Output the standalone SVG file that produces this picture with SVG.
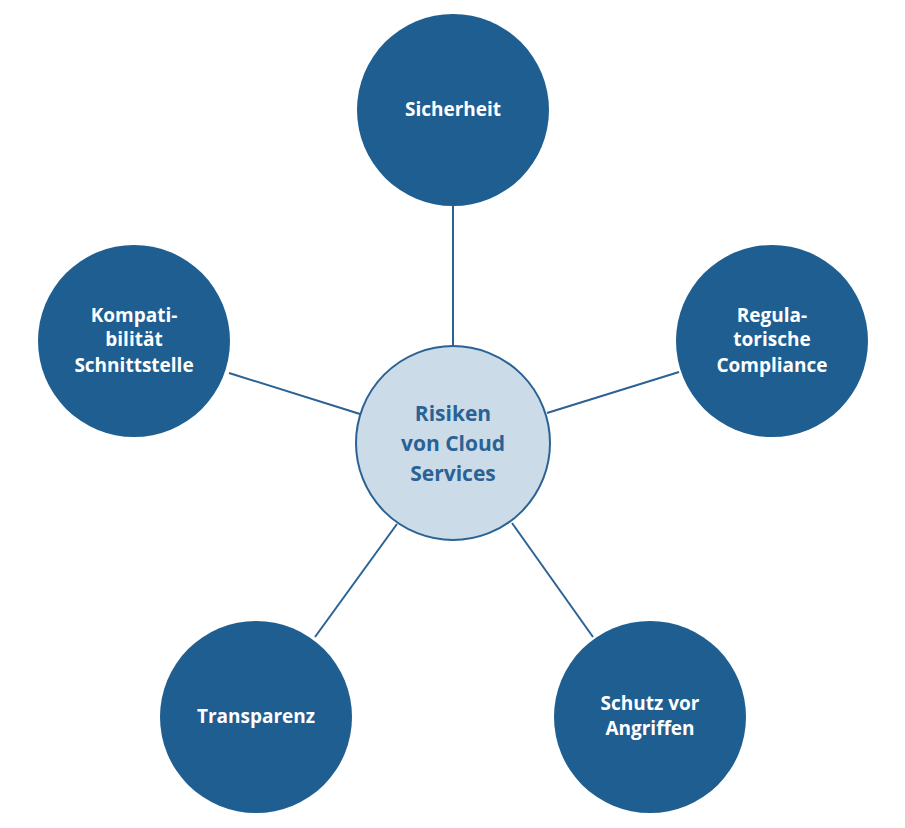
<svg xmlns="http://www.w3.org/2000/svg" width="905" height="828" viewBox="0 0 905 828">
<style>
.o{fill:#1f5e91}
.c{fill:#ccdbe8;stroke:#2a6294;stroke-width:2}
.t{font-family:"Open Sans",sans-serif;font-weight:bold;font-size:19px;fill:#fff;text-anchor:middle}
.ct{font-family:"Open Sans",sans-serif;font-weight:bold;font-size:21px;fill:#2a6294;text-anchor:middle}
.l{stroke:#2a6294;stroke-width:2;fill:none}
</style>
<rect width="905" height="828" fill="#fff"/>
<g id="connectors">
<line class="l" x1="453" y1="205" x2="453" y2="346"/>
<line class="l" x1="679" y1="372" x2="547" y2="413"/>
<line class="l" x1="229" y1="373" x2="360" y2="414"/>
<line class="l" x1="315" y1="637" x2="397" y2="524"/>
<line class="l" x1="593" y1="637" x2="512" y2="523"/>
</g>
<g id="center"><circle class="c" cx="453" cy="443" r="97"/>
<text class="ct" x="453" y="421">Risiken</text><text class="ct" x="453" y="451">von Cloud</text><text class="ct" x="453" y="481">Services</text></g>
<g id="sicherheit"><circle class="o" cx="453" cy="110" r="96"/><text class="t" x="453" y="116">Sicherheit</text></g>
<g id="regulatorisch"><circle class="o" cx="772" cy="341" r="96"/><text class="t" x="772" y="322">Regula-</text><text class="t" x="772" y="346">torische</text><text class="t" x="772" y="372">Compliance</text></g>
<g id="kompatibilitaet"><circle class="o" cx="134" cy="341" r="96"/><text class="t" x="134" y="322">Kompati-</text><text class="t" x="134" y="346">bilität</text><text class="t" x="134" y="372">Schnittstelle</text></g>
<g id="transparenz"><circle class="o" cx="256" cy="717" r="96"/><text class="t" x="256" y="723">Transparenz</text></g>
<g id="schutz"><circle class="o" cx="650" cy="717" r="96"/><text class="t" x="650" y="710">Schutz vor</text><text class="t" x="650" y="735">Angriffen</text></g>
</svg>
